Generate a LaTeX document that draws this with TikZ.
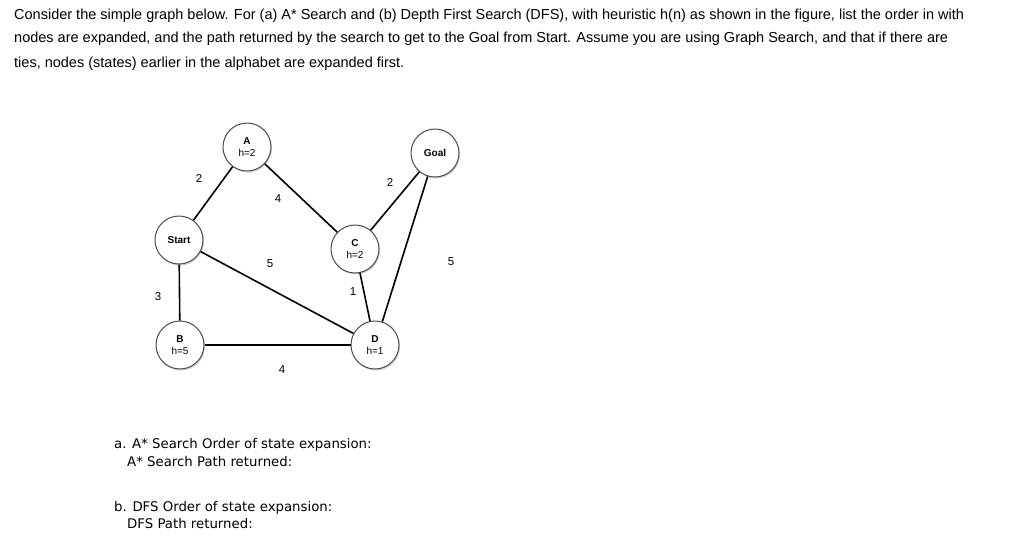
\documentclass[tikz,border=0pt]{standalone}
\usepackage{fontspec}
\setmainfont{Liberation Sans}
\newfontfamily\lucida{DejaVu Sans}
\usetikzlibrary{shadows}
\begin{document}
\begin{tikzpicture}[x=1pt,y=-1pt,
  st/.style={circle,draw=black!70,fill=white,line width=1pt,minimum size=48pt,inner sep=0pt,align=center,font=\fontsize{10}{12}\selectfont,drop shadow={shadow xshift=1pt,shadow yshift=-1.5pt,opacity=0.35}},
  ed/.style={line width=1.6pt},
  wl/.style={font=\fontsize{11.5}{13}\selectfont},
  hd/.style={anchor=base west,font=\fontsize{14.5}{17}\selectfont,inner sep=0pt},
  qs/.style={anchor=base west,font=\lucida\fontsize{13.3}{15}\selectfont,inner sep=0pt}]
\useasboundingbox[fill=white] (0,0) rectangle (1024,550);
\node[hd] (h1) at (14,19) {Consider the simple graph below. For (a) A* Search and (b) Depth First Search (DFS), with heuristic h(n) as shown in the figure, list the order in with};
\node[hd] (h2) at (14,42) {nodes are expanded, and the path returned by the search to get to the Goal from Start. Assume you are using Graph Search, and that if there are};
\node[hd] (h3) at (14,67) {ties, nodes (states) earlier in the alphabet are expanded first.};
\node[st] (A) at (247,147) {\textbf{A}\\h=2};
\node[st] (G) at (435,153) {\textbf{Goal}};
\node[st] (S) at (179,240) {\textbf{Start}};
\node[st] (C) at (355,249) {\textbf{C}\\h=2};
\node[st] (B) at (180,345) {\textbf{B}\\h=5};
\node[st] (D) at (375,345) {\textbf{D}\\h=1};
\draw[ed] (S) -- (A);
\draw[ed] (A) -- (C);
\draw[ed] (C) -- (G);
\draw[ed] (S) -- (D);
\draw[ed] (S) -- (B);
\draw[ed] (B) -- (D);
\draw[ed] (C) -- (D);
\draw[ed] (G) -- (D);
\node[wl] (w1) at (199,178) {2};
\node[wl] (w2) at (278,199) {4};
\node[wl] (w3) at (390,182) {2};
\node[wl] (w4) at (270,264) {5};
\node[wl] (w5) at (451,262) {5};
\node[wl] (w6) at (158,297) {3};
\node[wl] (w7) at (353,292) {1};
\node[wl] (w8) at (282,370) {4};
\node[qs] (qa1) at (114,448) {a. A* Search Order of state expansion:};
\node[qs] (qa2) at (127,466) {A* Search Path returned:};
\node[qs] (qb1) at (114,511) {b. DFS Order of state expansion:};
\node[qs] (qb2) at (127,528) {DFS Path returned:};
\end{tikzpicture}
\end{document}
